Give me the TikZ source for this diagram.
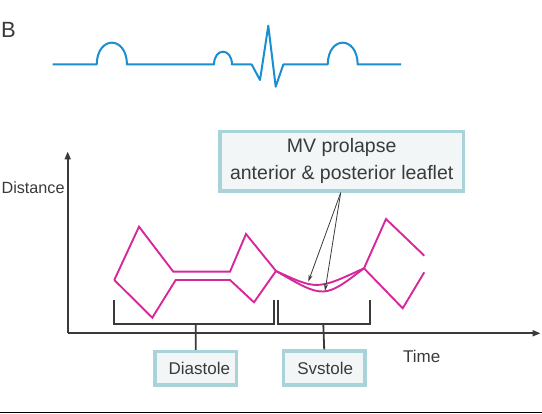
\documentclass[tikz,border=0pt]{standalone}
\usepackage{fontspec}
\setmainfont{Liberation Sans}
\usetikzlibrary{arrows.meta}
\definecolor{ecgblue}{HTML}{1A8FD0}
\definecolor{leafmag}{HTML}{D6289B}
\definecolor{boxedge}{HTML}{A8D3D8}
\definecolor{boxfill}{HTML}{F3F6F6}
\definecolor{inkgray}{HTML}{3A3A3A}
\tikzset{
  ecg/.style={draw=ecgblue,line width=2pt,line join=round},
  leaf/.style={draw=leafmag,line width=1.9pt},
  axis/.style={draw=inkgray,line width=1.8pt,-{Triangle[length=8pt,width=6pt]}},
  brk/.style={draw=inkgray,line width=1.8pt},
  ptr/.style={draw=inkgray,line width=0.8pt,-{Stealth[length=7pt,width=4pt]}},
  box/.style={draw=boxedge,fill=boxfill,line width=3.5pt,inner sep=0pt,text=inkgray,align=center},
  lbl/.style={text=inkgray,inner sep=0pt}
}
\begin{document}
\begin{tikzpicture}[x=1pt,y=-1pt]
\useasboundingbox (0,0) rectangle (542,414);
% panel letter
\node[lbl,font=\fontsize{22}{24}\selectfont] (B) at (8.5,30) {B};
% ECG trace
\draw[ecg] (52.7,64.5) -- (96.7,64.5)
  .. controls (97.2,35.4) and (126.5,35.4) .. (127,64.5)
  -- (214,64.5)
  .. controls (214.3,47.4) and (231.7,47.4) .. (232,64.5)
  -- (251.7,64.5) -- (260,80) -- (268.3,25.7) -- (275.7,86.7) -- (283.3,64.5)
  -- (327.7,64.5)
  .. controls (328.2,35.4) and (357.2,35.4) .. (357.7,64.5)
  -- (401,64.5);
% axes
\coordinate (org) at (67.7,333.3);
\coordinate (ytop) at (67.7,151.5);
\coordinate (xend) at (540.5,333.3);
\draw[axis] (org) -- (ytop);
\draw[axis] (org) -- (xend);
\node[lbl,font=\fontsize{16.2}{18}\selectfont,anchor=east] (dist) at (64.8,188) {Distance};
\node[lbl,font=\fontsize{17}{19}\selectfont] (time) at (421.7,356) {Time};
% leaflet traces
\draw[leaf] (114.3,280) -- (139,226.7) -- (173.3,271.7) -- (230,271.7) -- (246,234) -- (276,271);
\draw[leaf] (114.3,280) -- (152.3,317.7) -- (175.7,280) -- (230,280) -- (254,302.3) -- (276,271);
\draw[leaf] (276,271) .. controls (317,290) .. (364,268.3);
\draw[leaf] (276,271) .. controls (324,298.8) .. (364,268.3);
\draw[leaf] (364,268.3) -- (386,219) -- (424.3,255.7);
\draw[leaf] (364,268.3) -- (402.7,308.3) -- (424.3,272.3);
% brackets
\draw[brk] (114.3,300) -- (114.3,324.3) -- (274.3,324.3) -- (274.3,300);
\draw[brk] (277.6,300) -- (277.6,324.3) -- (370,324.3) -- (370,300);
\coordinate (dtick) at (195.7,324.3);
\coordinate (stick) at (323.3,324.3);
% boxes
\node[box,minimum width=81.5pt,minimum height=33.2pt,font=\fontsize{17}{19}\selectfont] (dia) at (195.8,368.3) {\hspace{7pt}Diastole};
\node[box,minimum width=81.5pt,minimum height=33.9pt,font=\fontsize{17}{19}\selectfont] (sys) at (324.2,368) {\hspace{2pt}Svstole};
\draw[brk] (dtick) -- (dia.north);
\draw[brk] (stick) -- (sys.north);
\node[box,minimum width=243.2pt,minimum height=59.2pt,font=\fontsize{19.5}{26.7}\selectfont] (mv) at (341.7,161.3) {MV prolapse\\anterior \& posterior leaflet};
% pointers
\coordinate (tipA) at (308.3,281.7);
\coordinate (tipB) at (325,291);
\draw[ptr] ([xshift=-1pt]mv.south) -- (tipA);
\draw[ptr] ([xshift=-1pt]mv.south) -- (tipB);
% bottom rule
\draw[black,line width=1.4pt] (0,412.7) -- (542,412.7);
\end{tikzpicture}
\end{document}
